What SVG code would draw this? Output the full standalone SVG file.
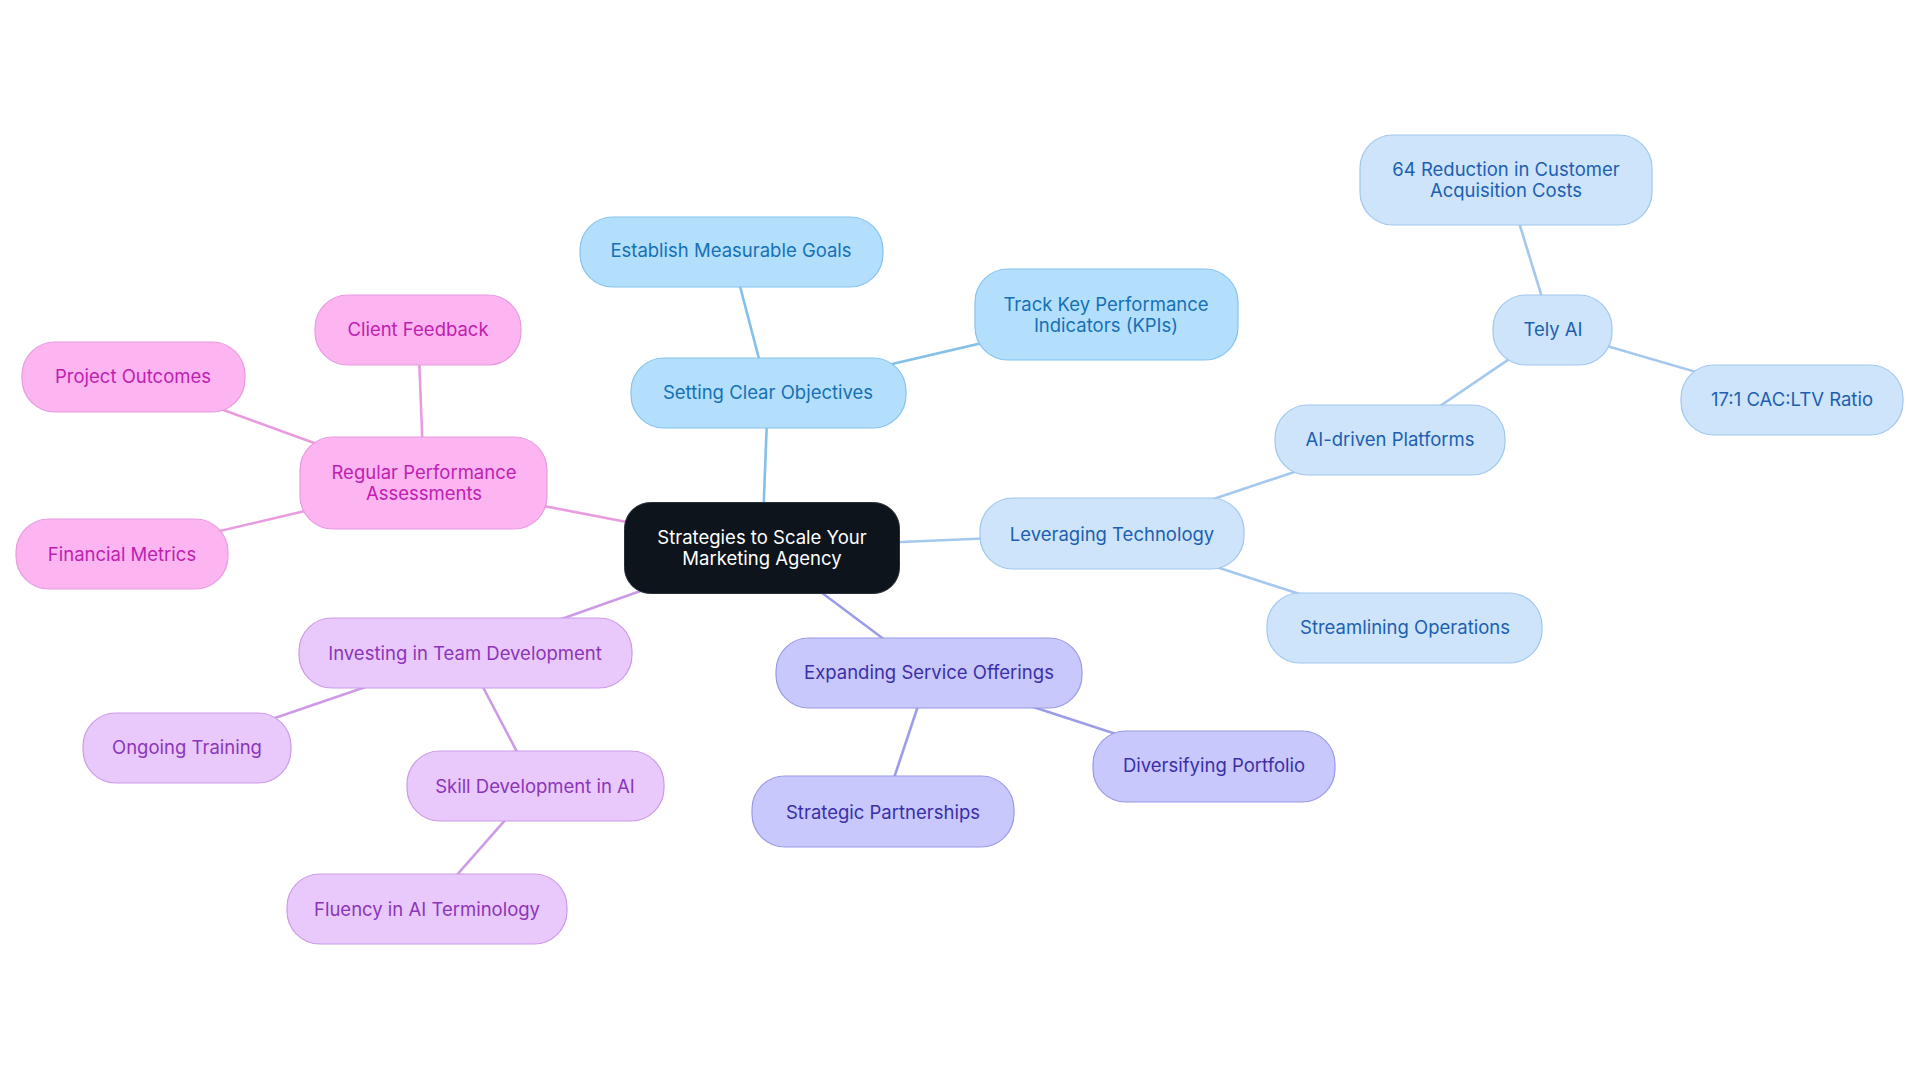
<svg xmlns="http://www.w3.org/2000/svg" width="1920" height="1083" viewBox="0 0 1920 1083">
<style>
text{font-family:Inter,"Noto Sans","Liberation Sans",sans-serif;font-size:18.5px;text-anchor:middle}
.c0 rect{fill:#0d141c;stroke:#2a3038;stroke-width:1}
.c0 text{fill:#ffffff}
.sky rect{fill:#b3dffd;stroke:#86c3ef;stroke-width:1.2}
.sky text{fill:#1670b5}
.lb rect{fill:#cde4fb;stroke:#a2c7ee;stroke-width:1.2}
.lb text{fill:#1d5fb0}
.pw rect{fill:#c8c8fd;stroke:#9a9ae8;stroke-width:1.2}
.pw text{fill:#3b2fa8}
.lv rect{fill:#e9c9fc;stroke:#cc9ae8;stroke-width:1.2}
.lv text{fill:#8b35b8}
.pk rect{fill:#fcb5f1;stroke:#e89ae0;stroke-width:1.2}
.pk text{fill:#c020b0}
#connectors line{stroke-width:2.6;fill:none}
.e-sky{stroke:#85c0e8}
.e-lb{stroke:#a5c8ee}
.e-pw{stroke:#9c9ce8}
.e-lv{stroke:#cd9ae8}
.e-pk{stroke:#e99be0}
</style>
<rect width="1920" height="1083" fill="#ffffff"/>
<g id="connectors">
<line class="e-sky" x1="762" y1="548" x2="768" y2="393"/>
<line class="e-sky" x1="768" y1="393" x2="731" y2="252"/>
<line class="e-sky" x1="768" y1="393" x2="1106" y2="314"/>
<line class="e-lb" x1="762" y1="548" x2="1112" y2="533"/>
<line class="e-lb" x1="1112" y1="533" x2="1390" y2="440"/>
<line class="e-lb" x1="1390" y1="440" x2="1552" y2="330"/>
<line class="e-lb" x1="1552" y1="330" x2="1506" y2="180"/>
<line class="e-lb" x1="1552" y1="330" x2="1792" y2="400"/>
<line class="e-lb" x1="1112" y1="533" x2="1404" y2="628"/>
<line class="e-pw" x1="762" y1="548" x2="929" y2="673"/>
<line class="e-pw" x1="929" y1="673" x2="1214" y2="766"/>
<line class="e-pw" x1="929" y1="673" x2="883" y2="811"/>
<line class="e-lv" x1="762" y1="548" x2="465" y2="653"/>
<line class="e-lv" x1="465" y1="653" x2="187" y2="748"/>
<line class="e-lv" x1="465" y1="653" x2="535" y2="786"/>
<line class="e-lv" x1="535" y1="786" x2="427" y2="909"/>
<line class="e-pk" x1="762" y1="548" x2="424" y2="483"/>
<line class="e-pk" x1="424" y1="483" x2="418" y2="330"/>
<line class="e-pk" x1="424" y1="483" x2="133" y2="377"/>
<line class="e-pk" x1="424" y1="483" x2="122" y2="554"/>
</g>
<g id="n-root" class="c0"><rect x="624.5" y="502.5" width="275" height="91" rx="26"/><text x="762" y="544">Strategies to Scale Your</text><text x="762" y="565">Marketing Agency</text></g>
<g id="n-setting" class="sky"><rect x="631" y="358" width="275" height="70" rx="33"/><text x="768" y="399">Setting Clear Objectives</text></g>
<g id="n-establish" class="sky"><rect x="580" y="217" width="303" height="70" rx="33"/><text x="731" y="257">Establish Measurable Goals</text></g>
<g id="n-kpi" class="sky"><rect x="975" y="269" width="263" height="91" rx="33"/><text x="1106" y="311">Track Key Performance</text><text x="1106" y="332">Indicators (KPIs)</text></g>
<g id="n-leveraging" class="lb"><rect x="980" y="498" width="264" height="71" rx="33"/><text x="1112" y="541">Leveraging Technology</text></g>
<g id="n-aidriven" class="lb"><rect x="1275" y="405" width="230" height="70" rx="33"/><text x="1390" y="446">AI-driven Platforms</text></g>
<g id="n-tely" class="lb"><rect x="1493" y="295" width="119" height="70" rx="33"/><text x="1553" y="336">Tely AI</text></g>
<g id="n-64" class="lb"><rect x="1360" y="135" width="292" height="90" rx="33"/><text x="1506" y="176">64 Reduction in Customer</text><text x="1506" y="197">Acquisition Costs</text></g>
<g id="n-ratio" class="lb"><rect x="1681" y="365" width="222" height="70" rx="33"/><text x="1792" y="406">17:1 CAC:LTV Ratio</text></g>
<g id="n-streamlining" class="lb"><rect x="1267" y="593" width="275" height="70" rx="33"/><text x="1405" y="634">Streamlining Operations</text></g>
<g id="n-expanding" class="pw"><rect x="776" y="638" width="306" height="70" rx="33"/><text x="929" y="679">Expanding Service Offerings</text></g>
<g id="n-diversifying" class="pw"><rect x="1093" y="731" width="242" height="71" rx="33"/><text x="1214" y="772">Diversifying Portfolio</text></g>
<g id="n-strategic" class="pw"><rect x="752" y="776" width="262" height="71" rx="33"/><text x="883" y="819">Strategic Partnerships</text></g>
<g id="n-investing" class="lv"><rect x="299" y="618" width="333" height="70" rx="33"/><text x="465" y="660">Investing in Team Development</text></g>
<g id="n-ongoing" class="lv"><rect x="83" y="713" width="208" height="70" rx="33"/><text x="187" y="754">Ongoing Training</text></g>
<g id="n-skill" class="lv"><rect x="407" y="751" width="257" height="70" rx="33"/><text x="535" y="793">Skill Development in AI</text></g>
<g id="n-fluency" class="lv"><rect x="287" y="874" width="280" height="70" rx="33"/><text x="427" y="916">Fluency in AI Terminology</text></g>
<g id="n-regular" class="pk"><rect x="300" y="437" width="247" height="92" rx="33"/><text x="424" y="479">Regular Performance</text><text x="424" y="500">Assessments</text></g>
<g id="n-client" class="pk"><rect x="315" y="295" width="206" height="70" rx="33"/><text x="418" y="336">Client Feedback</text></g>
<g id="n-project" class="pk"><rect x="22" y="342" width="223" height="70" rx="33"/><text x="133" y="383">Project Outcomes</text></g>
<g id="n-financial" class="pk"><rect x="16" y="519" width="212" height="70" rx="33"/><text x="122" y="561">Financial Metrics</text></g>
</svg>
